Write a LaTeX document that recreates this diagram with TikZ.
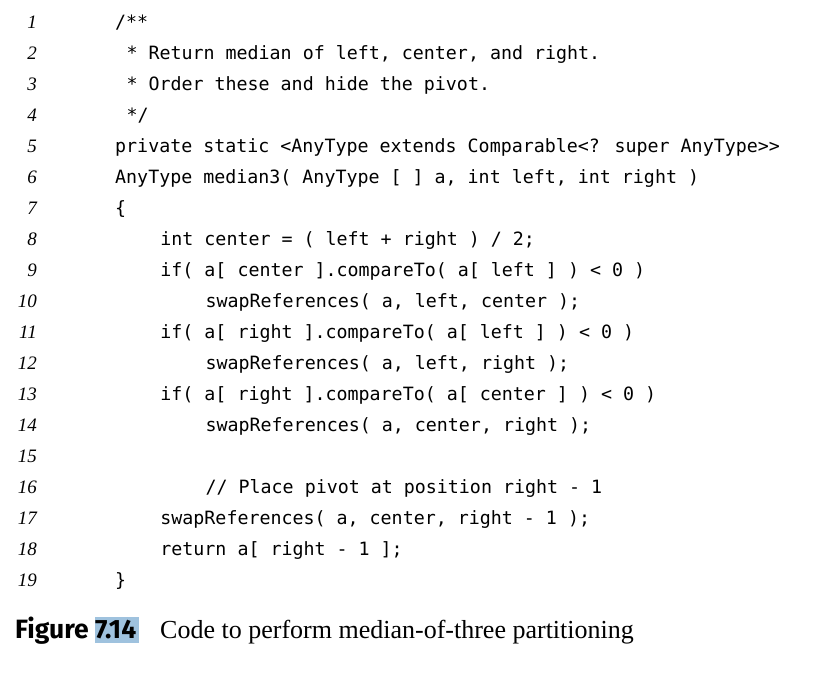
\documentclass[tikz,border=0pt]{standalone}
\usepackage{fontspec}
\setmainfont{Liberation Serif}
\newfontfamily\codefont{DejaVu Sans Mono}[Scale=1]
\newfontfamily\capfont{Fira Sans}
\definecolor{hl}{HTML}{9FC2DE}
\tikzset{code/.style={anchor=base west,inner sep=0pt,font=\codefont\fontsize{18.3}{20}\selectfont},
 num/.style={anchor=base east,inner sep=0pt,font=\itshape\fontsize{19}{22}\selectfont}}
\newcommand\cl[3]{\node[num] (n#1) at (37pt,{-(28+31*(#1-1))*1pt}) {#1};
 \node[code] (c#1) at ({(115+11.3*#2)*1pt},{-(28+31*(#1-1))*1pt}) {#3};}
\begin{document}
\begin{tikzpicture}[x=1pt,y=1pt]
\useasboundingbox (0,0) rectangle (836,-688);
\cl{1}{0}{/**}
\cl{2}{1}{* Return median of left, center, and right.}
\cl{3}{1}{* Order these and hide the pivot.}
\cl{4}{1}{*/}
\cl{5}{0}{private static <AnyType extends Comparable<? super AnyType>>}
\cl{6}{0}{AnyType median3( AnyType [ ] a, int left, int right )}
\cl{7}{0}{\{}
\cl{8}{4}{int center = ( left + right ) / 2;}
\cl{9}{4}{if( a[ center ].compareTo( a[ left ] ) < 0 )}
\cl{10}{8}{swapReferences( a, left, center );}
\cl{11}{4}{if( a[ right ].compareTo( a[ left ] ) < 0 )}
\cl{12}{8}{swapReferences( a, left, right );}
\cl{13}{4}{if( a[ right ].compareTo( a[ center ] ) < 0 )}
\cl{14}{8}{swapReferences( a, center, right );}
\node[num] (n15) at (37,-462) {15};
\cl{16}{8}{// Place pivot at position right - 1}
\cl{17}{4}{swapReferences( a, center, right - 1 );}
\cl{18}{4}{return a[ right - 1 ];}
\cl{19}{0}{\}}
\fill[hl] (95,-617) rectangle (139,-643);
\node[anchor=base west,inner sep=0pt,font=\capfont\bfseries\fontsize{26.5}{30}\selectfont] (fig) at (15,-638) {Figure 7.14};
\node[anchor=base west,inner sep=0pt,font=\fontsize{26}{30}\selectfont] (cap) at (160,-638) {Code to perform median-of-three partitioning};
\end{tikzpicture}
\end{document}
